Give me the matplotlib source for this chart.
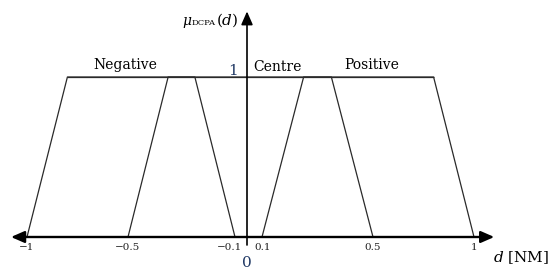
import matplotlib

matplotlib.use("Agg")

import matplotlib.pyplot as plt
import numpy as np

# fuzzy sets for DCPA (trapezoid corner points, d in NM)
SET_NAMES = ["Negative", "Centre", "Positive"]
SET_POINTS = [
    [-1.0, -0.8, -0.25, -0.1],
    [-0.5, -0.35, 0.35, 0.5],
    [0.1, 0.25, 0.8, 1.0],
]
MEMBERSHIP = [0, 1, 1, 0]
TICK_VALUES = [-1, -0.5, -0.1, 0.1, 0.5, 1]
TICK_LABELS = ["\u22121", "\u22120.5", "\u22120.1", "0.1", "0.5", "1"]

# the drawing is schematic: the d axis is stretched piecewise
KNOT_D = [-1.2, -1.0, -0.5, -0.1, 0.0, 0.1, 0.5, 1.0, 1.4]
KNOT_PX = [-260, -220, -119, -12, 0, 15, 126, 227, 308]

LINE = "#2a2a2a"
BLUE = "#1f3864"
W, H = 550, 276

plt.rcParams["font.family"] = "DejaVu Serif"
plt.rcParams["mathtext.fontset"] = "custom"
plt.rcParams["mathtext.rm"] = "DejaVu Serif"
plt.rcParams["mathtext.it"] = "DejaVu Serif:italic"


def warp(d):
    # d [NM] -> position along the drawn axis
    return np.interp(d, KNOT_D, KNOT_PX)


def fpos(x, y):
    return x / W, 1 - y / H


fig = plt.figure(figsize=(W / 100, H / 100), dpi=100)
ax = fig.add_axes([0, 0, 1, 1])
ax.set_xlim(-247, 303)
ax.set_ylim(-39 / 160, 237 / 160)
ax.axis("off")

for pts in SET_POINTS:
    ax.plot(warp(pts), MEMBERSHIP, color=LINE, lw=0.9)

# plateau where membership is 1 (union of the tops)
top_lo = min(p[1] for p in SET_POINTS)
top_hi = max(p[2] for p in SET_POINTS)
ax.hlines(1, warp(top_lo), warp(top_hi), color=LINE, lw=0.9)

# axes with arrow heads
ax.annotate("", xy=(warp(1.10), 0), xytext=(warp(-1.08), 0),
            arrowprops=dict(arrowstyle="<|-|>,head_length=0.8,head_width=0.35",
                            color="black", lw=1.7, shrinkA=0, shrinkB=0))
ax.annotate("", xy=(warp(0), 1.41), xytext=(warp(0), -0.05),
            arrowprops=dict(arrowstyle="-|>,head_length=0.8,head_width=0.35",
                            color="black", lw=1.2, shrinkA=0, shrinkB=0))

offsets = {-0.1: -4.0, 0.1: 0.7}
for val, lab in zip(TICK_VALUES, TICK_LABELS):
    ax.annotate(lab, xy=(warp(val), 0), xytext=(offsets.get(val, 0), -7.5),
                textcoords="offset points", ha="center", va="center",
                fontsize=7.5, color="#222222")

# set names
fig.text(*fpos(125.5, 68.5), SET_NAMES[0], ha="center", va="baseline", fontsize=10)
fig.text(*fpos(277, 71.5), SET_NAMES[1], ha="center", va="baseline", fontsize=10)
fig.text(*fpos(372, 69), SET_NAMES[2], ha="center", va="baseline", fontsize=10)

fig.text(*fpos(232.5, 75), "1", ha="center", va="baseline", fontsize=11, color=BLUE)
fig.text(*fpos(247, 267), "0", ha="center", va="baseline", fontsize=11, color=BLUE)

# axis titles
fig.text(*fpos(182, 25), r"$\mu$", ha="left", va="baseline", fontsize=10)
fig.text(*fpos(192, 25), "DCPA", ha="left", va="baseline", fontsize=6)
fig.text(*fpos(216, 25), r"$(d)$", ha="left", va="baseline", fontsize=11)
fig.text(*fpos(493, 262), r"$d$ [NM]", ha="left", va="baseline", fontsize=11)

fig.savefig("out.png", dpi=100, facecolor="white")
